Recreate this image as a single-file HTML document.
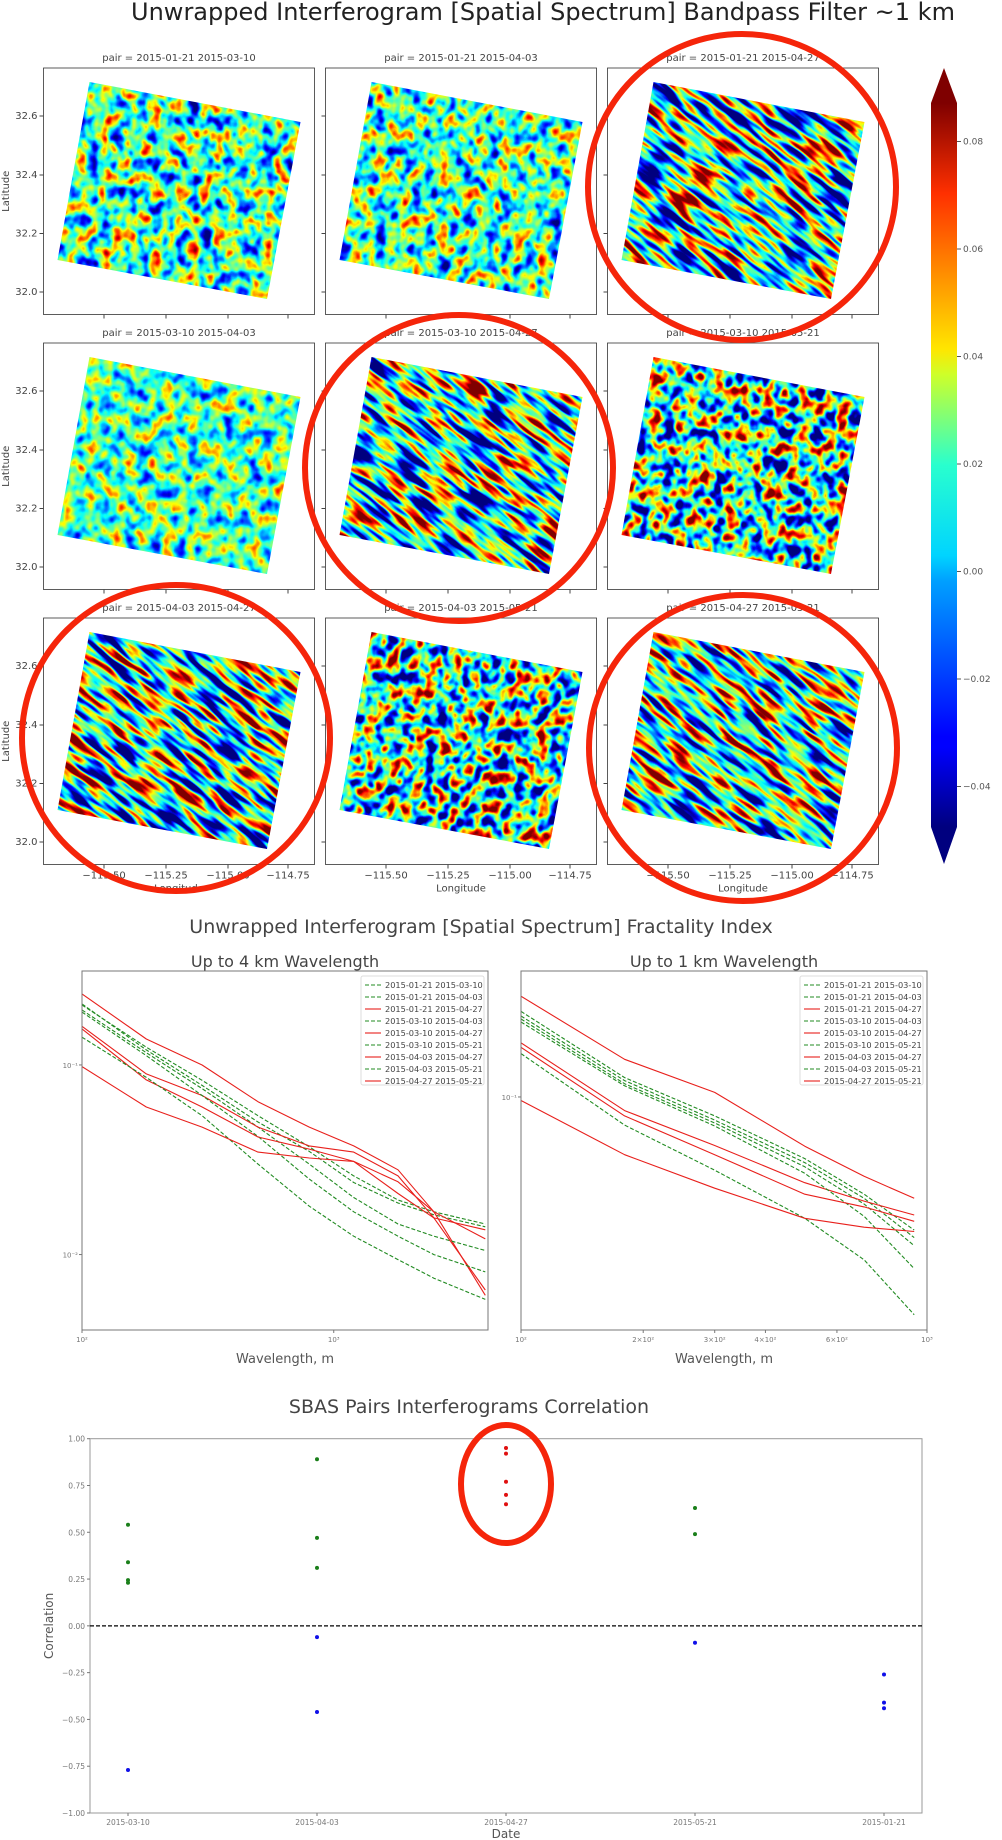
<!DOCTYPE html>
<html><head><meta charset="utf-8">
<style>
html,body{margin:0;padding:0;background:#fff;}
svg{display:block;font-family:"DejaVu Sans","Liberation Sans",sans-serif;}
</style></head>
<body>
<svg id="root" width="1002" height="1840" viewBox="0 0 1002 1840" xmlns="http://www.w3.org/2000/svg">
<defs>
<linearGradient id="jet" x1="0" y1="1" x2="0" y2="0">
<stop offset="0" stop-color="#00007f"/><stop offset="0.11" stop-color="#0000ff"/><stop offset="0.125" stop-color="#0000ff"/>
<stop offset="0.34" stop-color="#00a0ff"/><stop offset="0.375" stop-color="#00d4ff"/><stop offset="0.5" stop-color="#29ffce"/>
<stop offset="0.625" stop-color="#ceff29"/><stop offset="0.66" stop-color="#ffe600"/><stop offset="0.875" stop-color="#ff3000"/>
<stop offset="1" stop-color="#7f0000"/>
</linearGradient>
</defs>
<text x="543" y="20" font-size="24" text-anchor="middle" fill="#222">Unwrapped Interferogram [Spatial Spectrum] Bandpass Filter ~1 km</text>
<g id="panels"></g>
<g id="cbar">
<polygon points="931,103 944,68 957,103" fill="#7f0000"/>
<rect x="931" y="103" width="26" height="724" fill="url(#jet)"/>
<polygon points="931,827 944,864 957,827" fill="#00007f"/>
</g>
<g id="fract"></g>
<g id="corr"></g>
</svg>
<script>
const NS="http://www.w3.org/2000/svg";
const root=document.getElementById('root');
function mk(tag,attrs,parent,text){const e=document.createElementNS(NS,tag);for(const k in attrs)e.setAttribute(k,attrs[k]);if(text!==undefined)e.textContent=text;(parent||root).appendChild(e);return e;}

// ---------- colorbar ticks ----------
const cbarTicks=[0.08,0.06,0.04,0.02,0.00,-0.02,-0.04];
const cbarLabels=["0.08","0.06","0.04","0.02","0.00","\u22120.02","\u22120.04"];
const cb=document.getElementById('cbar');
function cbY(v){return 571.5-(v/0.02)*107.5;}
cbarTicks.forEach((v,i)=>{
  mk('line',{x1:957,x2:961,y1:cbY(v),y2:cbY(v),stroke:'#555'},cb);
  const t=mk('text',{x:963,y:cbY(v)+3,'font-size':9,fill:'#555'},cb,cbarLabels[i]);
  
  
});

// ---------- interferogram panels ----------
const pairs=["2015-01-21 2015-03-10","2015-01-21 2015-04-03","2015-01-21 2015-04-27","2015-03-10 2015-04-03","2015-03-10 2015-04-27","2015-03-10 2015-05-21","2015-04-03 2015-04-27","2015-04-03 2015-05-21","2015-04-27 2015-05-21"];
const stripe=[0,0,1,0,1,0,1,0,1];
const contrast=[1.45,1.45,2.4,1.15,2.6,2.2,2.6,2.2,2.4];
const lonLabels=["\u2212115.50","\u2212115.25","\u2212115.00","\u2212114.75"];
const latLabels=["32.6","32.4","32.2","32.0"];
const pg=document.getElementById('panels');
const defs=root.querySelector('defs');
const PX=[43.5,325.5,607.5],PY=[68,343,618],PW=271,PH=246.5;
pairs.forEach((p,i)=>{
  const col=i%3,row=Math.floor(i/3);const x0=PX[col],y0=PY[row];
  const g=mk('g',{},pg);
  
  
  const k=contrast[i];const off=0.45-0.5*k;
  const f=mk('filter',{id:'f'+i,x:0,y:0,width:1,height:1,'color-interpolation-filters':'sRGB'},defs);
  mk('feTurbulence',{type:'fractalNoise',baseFrequency:stripe[i]?'0.025 0.12':'0.08 0.07',numOctaves:2,seed:i*7+3},f);
  mk('feColorMatrix',{type:'matrix',values:`${k} 0 0 0 ${off} ${k} 0 0 0 ${off} ${k} 0 0 0 ${off} 0 0 0 0 1`},f);
  const ct=mk('feComponentTransfer',{},f);
  mk('feFuncR',{type:'table',tableValues:'0 0 0 0 0.5 1 1 1 0.5'},ct);
  mk('feFuncG',{type:'table',tableValues:'0 0 0.5 1 1 1 0.5 0 0'},ct);
  mk('feFuncB',{type:'table',tableValues:'0.5 1 1 1 0.5 0 0 0 0'},ct);
  const cp=mk('clipPath',{id:'c'+i},defs);
  const quad=`${x0+46},${y0+14} ${x0+257},${y0+54} ${x0+223.5},${y0+231} ${x0+14},${y0+192}`;
  mk('polygon',{points:quad},cp);
  const cg=mk('g',{'clip-path':`url(#c${i})`},g);
  const rg=mk('g',{transform:`rotate(${stripe[i]?38:0} ${x0+135} ${y0+123})`},cg);
  mk('rect',{x:x0-80,y:y0-80,width:PW+160,height:PH+160,filter:`url(#f${i})`},rg);
  mk('rect',{x:x0,y:y0,width:PW,height:PH,fill:'none',stroke:'#333','stroke-width':0.8},g);
  const tt=mk('text',{x:x0+PW/2,y:y0-7,'font-size':10,'text-anchor':'middle',fill:'#444'},g,'pair = '+p);
  
  
  [60.5,122.5,184.5,244.5].forEach((dx,j)=>{
    mk('line',{x1:x0+dx,x2:x0+dx,y1:y0+PH,y2:y0+PH+4,stroke:'#444'},g);
    if(row===2){const l=mk('text',{x:x0+dx,y:y0+PH+14,'font-size':10,'text-anchor':'middle',fill:'#444'},g,lonLabels[j]);
      
      }
  });
  [48,107,165.5,224].forEach((dy,j)=>{
    mk('line',{x1:x0-4,x2:x0,y1:y0+dy,y2:y0+dy,stroke:'#444'},g);
    if(col===0){const l=mk('text',{x:x0-6,y:y0+dy+3,'font-size':10,'text-anchor':'end',fill:'#444'},g,latLabels[j]);
      
      }
  });
  if(col===0){const l=mk('text',{x:9,y:y0+PH/2,'font-size':10,'text-anchor':'middle',fill:'#444',transform:`rotate(-90 9 ${y0+PH/2})`},g,'Latitude');
    
    }
  if(row===2){const l=mk('text',{x:x0+PW/2,y:y0+PH+27,'font-size':10,'text-anchor':'middle',fill:'#444'},g,'Longitude');
    
    }
});
// highlight circles
[[742,187],[459,468],[176,738],[743,748]].forEach(c=>{
  const e=mk('ellipse',{cx:c[0],cy:c[1],rx:154,ry:153,fill:'none',stroke:'#f5250a','stroke-width':6},pg);
  
  
});

// ---------- fractality charts ----------
const seriesNames=["2015-01-21 2015-03-10","2015-01-21 2015-04-03","2015-01-21 2015-04-27","2015-03-10 2015-04-03","2015-03-10 2015-04-27","2015-03-10 2015-05-21","2015-04-03 2015-04-27","2015-04-03 2015-05-21","2015-04-27 2015-05-21"];
const seriesRed=[0,0,1,0,1,0,1,0,1];
const wlLeft=[100,180,300,500,800,1200,1800,2500,4000];
const left0=[0.207,0.124,0.083,0.054,0.037,0.026,0.0194,0.0168,0.0145];
const left1=[0.21,0.12,0.078,0.05,0.035,0.024,0.0187,0.0162,0.014];
const left2=[0.237,0.137,0.1,0.064,0.047,0.0374,0.028,0.0168,0.0061];
const left3=[0.195,0.116,0.075,0.047,0.03,0.02,0.0145,0.0125,0.0105];
const left4=[0.16,0.0897,0.069,0.047,0.0374,0.0347,0.026,0.0156,0.0065];
const left5=[0.19,0.112,0.069,0.042,0.025,0.0168,0.0125,0.010,0.0081];
const left6=[0.155,0.0834,0.06,0.0417,0.036,0.031,0.0242,0.0168,0.0121];
const left7=[0.14,0.086,0.054,0.03,0.018,0.0125,0.0094,0.0075,0.0058];
const left8=[0.098,0.06,0.047,0.0347,0.0323,0.031,0.021,0.0156,0.0135];
const wlRight=[100,180,300,500,700,930];
const right0=[0.208,0.118,0.085,0.059,0.0435,0.032];
const right1=[0.2,0.115,0.082,0.057,0.042,0.030];
const right2=[0.237,0.138,0.104,0.0656,0.0507,0.042];
const right3=[0.195,0.112,0.08,0.055,0.04,0.028];
const right4=[0.159,0.089,0.066,0.048,0.041,0.0364];
const right5=[0.19,0.11,0.078,0.052,0.036,0.023];
const right6=[0.153,0.085,0.061,0.0435,0.039,0.0345];
const right7=[0.145,0.0786,0.0534,0.0354,0.0248,0.0155];
const right8=[0.097,0.061,0.0458,0.0354,0.0328,0.0316];
const leftSeries=[left0,left1,left2,left3,left4,left5,left6,left7,left8];
const rightSeries=[right0,right1,right2,right3,right4,right5,right6,right7,right8];

const fr=document.getElementById('fract');
const ft=mk('text',{x:481,y:933,'font-size':19,'text-anchor':'middle',fill:'#444'},fr,'Unwrapped Interferogram [Spatial Spectrum] Fractality Index');



function logChart(o){
  const g=mk('g',{},fr);
  
  
  const lx0=Math.log10(o.xmin),lx1=Math.log10(o.xmax),ly0=Math.log10(o.ymin),ly1=Math.log10(o.ymax);
  const X=v=>o.x+(Math.log10(v)-lx0)/(lx1-lx0)*o.w;
  const Y=v=>o.y+o.h-(Math.log10(v)-ly0)/(ly1-ly0)*o.h;
  const cp=mk('clipPath',{id:o.name+'-clip'},defs);mk('rect',{x:o.x,y:o.y,width:o.w,height:o.h},cp);
  const t=mk('text',{x:o.x+o.w/2,y:o.y-4,'font-size':16,'text-anchor':'middle',fill:'#444'},g,o.title);
  
  
  o.series.forEach((s,i)=>{
    const d=s.map((v,j)=>(j?'L':'M')+X(o.xs[j]).toFixed(1)+','+Y(v).toFixed(1)).join(' ');
    const p=mk('path',{d:d,fill:'none',stroke:seriesRed[i]?'#e8201c':'#228b22','stroke-width':1.1,'stroke-dasharray':seriesRed[i]?'none':'4,2','stroke-linejoin':'round','clip-path':`url(#${o.name}-clip)`},g);
    
    
  });
  mk('rect',{x:o.x,y:o.y,width:o.w,height:o.h,fill:'none',stroke:'#777','stroke-width':1},g);
  o.xticks.forEach((v,i)=>{
    mk('line',{x1:X(v),x2:X(v),y1:o.y+o.h,y2:o.y+o.h+3,stroke:'#777'},g);
    const l=mk('text',{x:X(v),y:o.y+o.h+12,'font-size':7,'text-anchor':'middle',fill:'#777'},g,o.xlabels[i]);
    
    
  });
  o.yticks.forEach((v,i)=>{
    mk('line',{x1:o.x-3,x2:o.x,y1:Y(v),y2:Y(v),stroke:'#777'},g);
    const l=mk('text',{x:o.x-4,y:Y(v)+3,'font-size':7,'text-anchor':'end',fill:'#777'},g,o.ylabels[i]);
    
    
  });
  const xl=mk('text',{x:o.x+o.w/2,y:o.y+o.h+33,'font-size':13,'text-anchor':'middle',fill:'#555'},g,'Wavelength, m');
  
  
  const lg=mk('g',{},g);
  
  
  const lx=o.x+o.w-127;
  mk('rect',{x:lx,y:o.y+5,width:123,height:109,fill:'#fff',stroke:'#ddd',rx:2},lg);
  seriesNames.forEach((n,i)=>{
    const yy=o.y+14+i*12;
    mk('line',{x1:lx+4,x2:lx+20,y1:yy,y2:yy,stroke:seriesRed[i]?'#e8201c':'#228b22','stroke-width':1.1,'stroke-dasharray':seriesRed[i]?'none':'4,2'},lg);
    const e=mk('text',{x:lx+24,y:yy+3,'font-size':8.2,fill:'#444'},lg,n);
    
    
  });
}
logChart({name:'chart-4km',title:'Up to 4 km Wavelength',x:82,y:971,w:406,h:359,xmin:100,xmax:4100,ymin:0.004,ymax:0.313,xs:wlLeft,series:leftSeries,
  xticks:[100,1000],xlabels:['10\u00b2','10\u00b3'],yticks:[0.1,0.01],ylabels:['10\u207b\u00b9','10\u207b\u00b2']});
logChart({name:'chart-1km',title:'Up to 1 km Wavelength',x:521,y:971,w:406,h:359,xmin:100,xmax:1000,ymin:0.0136,ymax:0.294,xs:wlRight,series:rightSeries,
  xticks:[100,200,300,400,600,1000],xlabels:['10\u00b2','2\u00d710\u00b2','3\u00d710\u00b2','4\u00d710\u00b2','6\u00d710\u00b2','10\u00b3'],yticks:[0.1],ylabels:['10\u207b\u00b9']});

// ---------- correlation chart ----------
const corrDates=["2015-03-10","2015-04-03","2015-04-27","2015-05-21","2015-01-21"];
const corrGreen=[[0.54,0.34,0.244,0.23],[0.89,0.47,0.31],[],[0.63,0.49],[]];
const corrRed=[[],[],[0.95,0.92,0.77,0.70,0.65],[],[]];
const corrBlue=[[-0.77],[-0.06,-0.46],[],[-0.09],[-0.26,-0.41,-0.44]];
const corrTicks=[1,0.75,0.5,0.25,0,-0.25,-0.5,-0.75,-1];
const corrTickLabels=["1.00","0.75","0.50","0.25","0.00","\u22120.25","\u22120.50","\u22120.75","\u22121.00"];
const cg=document.getElementById('corr');


const CX=90,CW=832,CY=1438.7,CH=374.3;
const cx=i=>128+i*189;
const cy=v=>CY+(1-v)/2*CH;
const ct=mk('text',{x:469,y:1413,'font-size':19,'text-anchor':'middle',fill:'#444'},cg,'SBAS Pairs Interferograms Correlation');


mk('rect',{x:CX,y:CY,width:CW,height:CH,fill:'none',stroke:'#999'},cg);
const zl=mk('line',{x1:CX,x2:CX+CW,y1:cy(0),y2:cy(0),stroke:'#000','stroke-dasharray':'4,2','stroke-width':1.2},cg);


corrTicks.forEach((v,i)=>{
  mk('line',{x1:CX-3,x2:CX,y1:cy(v),y2:cy(v),stroke:'#777'},cg);
  const l=mk('text',{x:CX-5,y:cy(v)+3,'font-size':7.5,'text-anchor':'end',fill:'#777'},cg,corrTickLabels[i]);
  
  
});
corrDates.forEach((d,i)=>{
  mk('line',{x1:cx(i),x2:cx(i),y1:CY+CH,y2:CY+CH+3,stroke:'#777'},cg);
  const l=mk('text',{x:cx(i),y:CY+CH+12,'font-size':7.5,'text-anchor':'middle',fill:'#777'},cg,d);
  
  
  [[corrGreen,'#1a7f1a'],[corrRed,'#e01010'],[corrBlue,'#1010e8']].forEach(([arr,col])=>{
    arr[i].forEach(v=>{
      const c=mk('circle',{cx:cx(i),cy:cy(v),r:2,fill:col},cg);
      
      
    });
  });
});
const yl=mk('text',{x:53,y:cy(0),'font-size':12,'text-anchor':'middle',fill:'#555',transform:`rotate(-90 53 ${cy(0)})`},cg,'Correlation');


const xl=mk('text',{x:cx(2),y:1838,'font-size':12,'text-anchor':'middle',fill:'#555'},cg,'Date');


const he=mk('ellipse',{cx:506,cy:1484,rx:45,ry:59,fill:'none',stroke:'#f5250a','stroke-width':6},cg);


</script>
</body></html>
